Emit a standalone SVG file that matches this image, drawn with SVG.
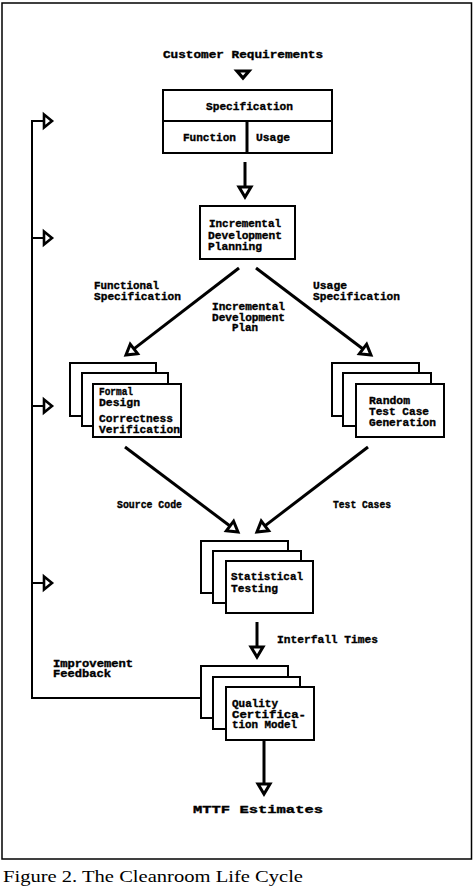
<svg xmlns="http://www.w3.org/2000/svg" width="474" height="887" viewBox="0 0 474 887">
<style>
.bx{fill:#fff;stroke:#000;stroke-width:2}
.t{font-family:"Liberation Mono","DejaVu Sans Mono",monospace;font-weight:bold;font-size:11px;fill:#000;stroke:#000;stroke-width:0.35}
.s{font-size:10px}
.ln{fill:none;stroke:#000;stroke-width:3}
.fb{fill:none;stroke:#000;stroke-width:2}
.cap{font-family:"Liberation Serif","Times New Roman",serif;font-size:17px;fill:#000}
</style>
<defs>
<marker id="ah" markerUnits="userSpaceOnUse" markerWidth="20" markerHeight="20" refX="0" refY="0" orient="auto" overflow="visible">
<path d="M0,-6 L10,0 L0,6 Z" fill="#fff" stroke="#000" stroke-width="3" stroke-linejoin="miter"/>
</marker>
<marker id="ahs" markerUnits="userSpaceOnUse" markerWidth="20" markerHeight="20" refX="0" refY="0" orient="auto" overflow="visible">
<path d="M0,-6.5 L8,0 L0,6.5 Z" fill="#fff" stroke="#000" stroke-width="2.6"/>
</marker>
</defs>
<rect x="0" y="0" width="474" height="887" fill="#fff"/>
<rect id="frame" x="2" y="3" width="469.5" height="856" fill="none" stroke="#000" stroke-width="1.5"/>

<g id="connectors">
<polygon points="237,71 249,71 243,78" fill="#fff" stroke="#000" stroke-width="3.2" stroke-linejoin="miter"/>
<line class="ln" x1="245" y1="162" x2="245" y2="187" marker-end="url(#ah)"/>
<line class="ln" x1="239" y1="268" x2="133.9" y2="348.9" marker-end="url(#ah)"/>
<line class="ln" x1="256" y1="268" x2="363" y2="349" marker-end="url(#ah)"/>
<line class="ln" x1="125" y1="447" x2="230" y2="526" marker-end="url(#ah)"/>
<line class="ln" x1="368" y1="447" x2="264.9" y2="525.9" marker-end="url(#ah)"/>
<line class="ln" x1="257" y1="622" x2="257" y2="647" marker-end="url(#ah)"/>
<line class="ln" x1="264" y1="740" x2="264" y2="784" marker-end="url(#ah)"/>
<path class="fb" d="M201,698 H32 V121 H44" marker-end="url(#ahs)"/>
<line class="fb" x1="32" y1="238" x2="44" y2="238" marker-end="url(#ahs)"/>
<line class="fb" x1="32" y1="406" x2="44" y2="406" marker-end="url(#ahs)"/>
<line class="fb" x1="32" y1="583" x2="44" y2="583" marker-end="url(#ahs)"/>
</g>

<g id="customer-requirements">
<text class="t" x="163" y="58" font-size="13" textLength="160" lengthAdjust="spacingAndGlyphs">Customer Requirements</text>
</g>

<g id="specification">
<rect class="bx" x="163" y="90" width="169" height="63"/>
<line x1="163" y1="121" x2="332" y2="121" stroke="#000" stroke-width="2"/>
<line x1="247" y1="121" x2="247" y2="153" stroke="#000" stroke-width="3"/>
<text class="t" x="206" y="110" textLength="87" lengthAdjust="spacingAndGlyphs">Specification</text>
<text class="t" x="183" y="141" textLength="53" lengthAdjust="spacingAndGlyphs">Function</text>
<text class="t" x="256" y="141" textLength="34" lengthAdjust="spacingAndGlyphs">Usage</text>
</g>

<g id="planning">
<rect class="bx" x="200" y="206" width="95" height="53"/>
<text class="t" x="209" y="227" textLength="72" lengthAdjust="spacingAndGlyphs">Incremental</text>
<text class="t" x="208" y="238.5" textLength="74" lengthAdjust="spacingAndGlyphs">Development</text>
<text class="t" x="208" y="250" textLength="54" lengthAdjust="spacingAndGlyphs">Planning</text>
</g>

<g id="label-functional">
<text class="t" x="94" y="289" textLength="65" lengthAdjust="spacingAndGlyphs">Functional</text>
<text class="t" x="94" y="300" textLength="87" lengthAdjust="spacingAndGlyphs">Specification</text>
</g>
<g id="label-plan">
<text class="t s" x="212" y="310" textLength="73" lengthAdjust="spacingAndGlyphs">Incremental</text>
<text class="t s" x="212" y="320.5" textLength="73" lengthAdjust="spacingAndGlyphs">Development</text>
<text class="t s" x="232" y="331" textLength="26" lengthAdjust="spacingAndGlyphs">Plan</text>
</g>
<g id="label-usage">
<text class="t" x="313" y="289" textLength="34" lengthAdjust="spacingAndGlyphs">Usage</text>
<text class="t" x="313" y="300" textLength="87" lengthAdjust="spacingAndGlyphs">Specification</text>
</g>

<g id="formal-design">
<rect class="bx" x="70" y="363" width="86" height="53"/>
<rect class="bx" x="82" y="373" width="86" height="53"/>
<rect class="bx" x="93" y="384" width="88" height="53"/>
<text class="t" x="99" y="394.5" textLength="34" lengthAdjust="spacingAndGlyphs">Formal</text>
<text class="t" x="99" y="405.5" textLength="41" lengthAdjust="spacingAndGlyphs">Design</text>
<text class="t" x="99" y="422" textLength="74" lengthAdjust="spacingAndGlyphs">Correctness</text>
<text class="t" x="99" y="433" textLength="81" lengthAdjust="spacingAndGlyphs">Verification</text>
</g>

<g id="random-test">
<rect class="bx" x="332" y="363" width="87" height="53"/>
<rect class="bx" x="343" y="373" width="88" height="53"/>
<rect class="bx" x="356" y="384" width="88" height="53"/>
<text class="t" x="369" y="404" textLength="41" lengthAdjust="spacingAndGlyphs">Random</text>
<text class="t" x="369" y="415" textLength="60" lengthAdjust="spacingAndGlyphs">Test Case</text>
<text class="t" x="369" y="426" textLength="67" lengthAdjust="spacingAndGlyphs">Generation</text>
</g>

<g id="label-source">
<text class="t" x="117" y="508" textLength="65" lengthAdjust="spacingAndGlyphs">Source Code</text>
</g>
<g id="label-testcases">
<text class="t" x="333" y="508" textLength="58" lengthAdjust="spacingAndGlyphs">Test Cases</text>
</g>

<g id="statistical-testing">
<rect class="bx" x="201" y="541" width="87" height="52"/>
<rect class="bx" x="213" y="551" width="88" height="52"/>
<rect class="bx" x="226" y="561" width="87" height="52"/>
<text class="t" x="231" y="580" textLength="72" lengthAdjust="spacingAndGlyphs">Statistical</text>
<text class="t" x="231" y="592" textLength="47" lengthAdjust="spacingAndGlyphs">Testing</text>
</g>

<g id="label-interfall">
<text class="t" x="277" y="643" textLength="101" lengthAdjust="spacingAndGlyphs">Interfall Times</text>
</g>
<g id="label-feedback">
<text class="t s" x="53" y="666.5" textLength="80" lengthAdjust="spacingAndGlyphs">Improvement</text>
<text class="t s" x="53" y="677" textLength="58" lengthAdjust="spacingAndGlyphs">Feedback</text>
</g>

<g id="quality-certification">
<rect class="bx" x="201" y="666" width="87" height="52"/>
<rect class="bx" x="213" y="677" width="87" height="52"/>
<rect class="bx" x="226" y="687" width="88" height="53"/>
<text class="t s" x="232" y="707" textLength="46" lengthAdjust="spacingAndGlyphs">Quality</text>
<text class="t s" x="232" y="717.5" textLength="74" lengthAdjust="spacingAndGlyphs">Certifica-</text>
<text class="t s" x="232" y="728" textLength="65" lengthAdjust="spacingAndGlyphs">tion Model</text>
</g>

<g id="mttf">
<text class="t" x="193" y="813" font-size="15" textLength="130" lengthAdjust="spacingAndGlyphs">MTTF Estimates</text>
</g>

<text class="cap" x="3" y="882" textLength="300" lengthAdjust="spacingAndGlyphs">Figure 2. The Cleanroom Life Cycle</text>
</svg>
